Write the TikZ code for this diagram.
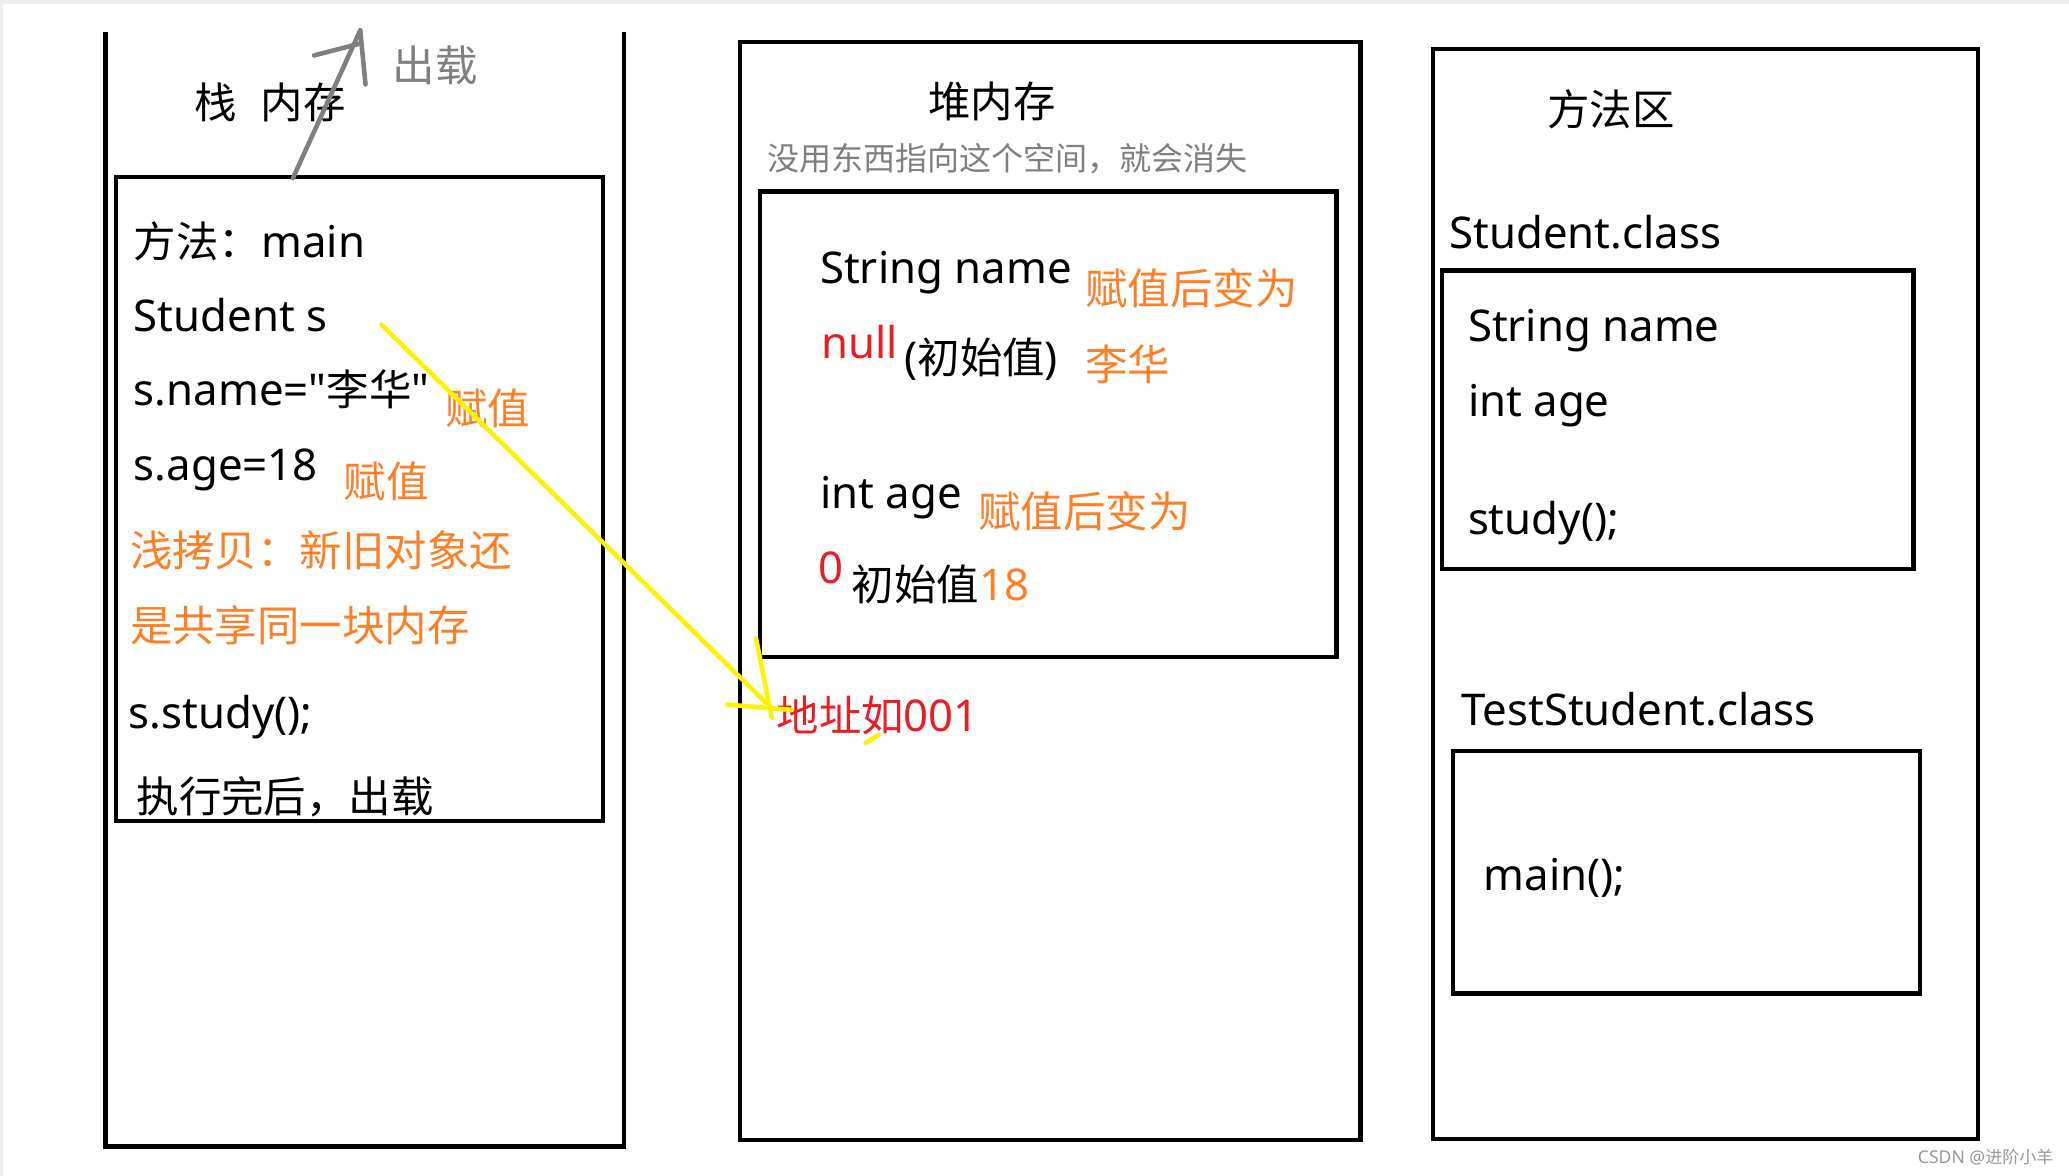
\documentclass[tikz,border=0pt]{standalone}
\usepackage{fontspec}
\setmainfont{Noto Sans}
\newfontfamily\zhfont[Scale=0.97]{Noto Sans CJK SC}
\newfontfamily\rawfont{Noto Sans}
\usepackage{xcolor}

\definecolor{paintorange}{HTML}{FF7F27}
\definecolor{paintred}{HTML}{ED1C24}
\definecolor{paintyellow}{HTML}{FFF200}
\definecolor{paintgray}{HTML}{7F7F7F}

\newcommand{\zh}[1]{{\zhfont #1}}
\newcommand{\qt}{{\rawfont\symbol{34}}}

\tikzset{
    txt/.style={anchor=base west, inner sep=0pt, font=\fontsize{12.45pt}{15pt}\selectfont},
    orangetxt/.style={txt, text=paintorange},
    redtxt/.style={txt, text=paintred},
    graytxt/.style={txt, text=paintgray},
    frame/.style={draw=black, line width=1.25pt},
    hand/.style={line width=1.3pt, line cap=round},
}

\begin{document}
\begin{tikzpicture}[x=0.013195cm, y=-0.013195cm]
        \useasboundingbox (0,0) rectangle (1568,891);
        % screenshot edges
        \fill[black!7] (0,0) rectangle (1568,3);
        \fill[black!7] (0,0) rectangle (2,891);

        % frames
        \draw[frame] (80,24) -- (80,869) -- (473,869) -- (473,24);
        \draw[frame] (88,134) rectangle (457,622);
        \draw[frame] (561,32) rectangle (1031,864);
        \draw[frame] (576,145) rectangle (1013,498);
        \draw[frame] (1086,37) rectangle (1499,863);
        \draw[frame] (1093,205) rectangle (1450,431);
        \draw[frame] (1101,569) rectangle (1455,753);

        % stack memory
        \node[txt] (stacktitle) at (147,90) {\zh{栈\hspace{6.8pt}内存}};
        \node[graytxt] (popout) at (297,62) {\zh{出载}};
        \node[txt] (frmmain) at (101,195) {\zh{方法：}main};
        \node[txt] (sdecl) at (101,251) {Student s};
        \node[txt] (sname) at (101,307) {s.name=\qt\zh{李华}\qt};
        \node[orangetxt] (assigna) at (337,322) {\zh{赋值}};
        \node[txt] (sage) at (101,364) {s.age=18};
        \node[orangetxt] (assignb) at (260,377) {\zh{赋值}};
        \node[orangetxt] (shallowa) at (98,429) {\zh{浅拷贝：新旧对象还}};
        \node[orangetxt] (shallowb) at (98,486) {\zh{是共享同一块内存}};
        \node[txt] (scall) at (97,552) {s.study();};
        \node[txt] (popend) at (103,616) {\zh{执行完后，出载}};

        % heap memory
        \node[txt] (heaptitle) at (703,89) {\zh{堆内存}};
        \node[graytxt, font=\fontsize{9.4pt}{11pt}\selectfont] (heapnote) at (581,129) {\zh{没用东西指向这个空间，就会消失}};
        \node[txt] (hname) at (621,215) {String name};
        \node[orangetxt] (hnameto) at (822,231) {\zh{赋值后变为}};
        \node[redtxt] (hnull) at (622,272) {null};
        \node[txt] (hnullinit) at (685,283) {(\zh{初始值})};
        \node[orangetxt] (hli) at (822,288) {\zh{李华}};
        \node[txt] (hage) at (621,385) {int age};
        \node[orangetxt] (hageto) at (741,400) {\zh{赋值后变为}};
        \node[redtxt] (hzero) at (620,442) {0};
        \node[txt] (hzeroinit) at (645,455) {\zh{初始值}};
        \node[orangetxt] (hage18) at (742,455) {18};
        \node[redtxt] (haddr) at (588,554) {\zh{地址如}001};

        % method area
        \node[txt] (methtitle) at (1172,95) {\zh{方法区}};
        \node[txt] (stuclass) at (1098,188) {Student.class};
        \node[txt] (cname) at (1112,259) {String name};
        \node[txt] (cage) at (1112,316) {int age};
        \node[txt] (cstudy) at (1112,405) {study();};
        \node[txt] (testclass) at (1107,550) {TestStudent.class};
        \node[txt] (cmain) at (1124,675) {main();};

        % hand drawn arrows
        \coordinate (popbase) at (222,135);
        \coordinate (poptip) at (273,23);
        \draw[hand, draw=paintgray] (popbase) -- (poptip);
        \draw[hand, draw=paintgray] (238,42) -- (273,33);
        \draw[hand, draw=paintgray] (poptip) -- (277,64);

        \coordinate (refbase) at (289,246);
        \coordinate (reftip) at (585,537);
        \draw[hand, draw=paintyellow] (refbase) -- (reftip);
        \draw[hand, draw=paintyellow] (573,484) -- (585,544);
        \draw[hand, draw=paintyellow] (551,534) -- (600,538);
        \draw[hand, draw=paintyellow] (656,563) -- (666,557);

        % watermark
        \node[anchor=base west, inner sep=0pt, text=black!40, font=\fontsize{5pt}{6pt}\selectfont] (mark) at (1453,882) {CSDN @\zh{进阶小羊}};
\end{tikzpicture}
\end{document}
